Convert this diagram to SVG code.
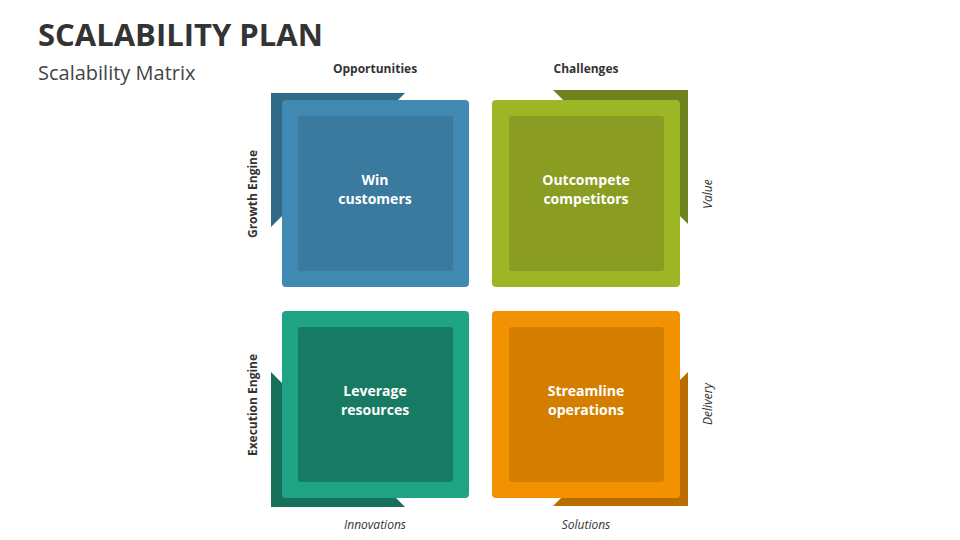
<svg xmlns="http://www.w3.org/2000/svg" width="960" height="540" viewBox="0 0 960 540">
<style>
text{font-family:"Open Sans","Liberation Sans",sans-serif}
.lab{font-size:14px;font-weight:bold;fill:#fff;text-anchor:middle}
.ax{font-size:12px;font-weight:bold;fill:#333;text-anchor:middle}
.it{font-size:12px;font-style:italic;fill:#333;text-anchor:middle}
</style>
<rect width="960" height="540" fill="#fff"/>
<text x="38" y="46" font-size="31" font-weight="bold" fill="#333">SCALABILITY PLAN</text>
<text x="38" y="80" font-size="20" fill="#444">Scalability Matrix</text>
<text class="ax" x="375" y="73">Opportunities</text>
<text class="ax" x="586" y="73">Challenges</text>
<text class="ax" transform="translate(257,194) rotate(-90)">Growth Engine</text>
<text class="ax" transform="translate(257,405) rotate(-90)">Execution Engine</text>
<text class="it" transform="translate(712,194) rotate(-90)">Value</text>
<text class="it" transform="translate(712,404) rotate(-90)">Delivery</text>
<text class="it" x="375" y="529">Innovations</text>
<text class="it" x="586" y="529">Solutions</text>
<g id="n1">
<polygon points="271,93 405,93 271,227" fill="#306a86"/>
<rect x="282" y="100" width="187" height="187" rx="4" fill="#3f89b3"/>
<rect x="298" y="116" width="155" height="155" rx="3" fill="#3a7a9f"/>
<text class="lab" x="375" y="185">Win</text><text class="lab" x="375" y="204">customers</text>
</g>
<g id="n2">
<polygon points="553,90 688,90 688,224" fill="#6f8220"/>
<rect x="492" y="100" width="188" height="187" rx="4" fill="#9db626"/>
<rect x="509" y="116" width="155" height="155" rx="3" fill="#8a9c22"/>
<text class="lab" x="586" y="185">Outcompete</text><text class="lab" x="586" y="204">competitors</text>
</g>
<g id="n3">
<polygon points="271,372 271,507 405,507" fill="#16705a"/>
<rect x="282" y="311" width="187" height="187" rx="4" fill="#1ea484"/>
<rect x="298" y="327" width="155" height="155" rx="3" fill="#177a62"/>
<text class="lab" x="375" y="396">Leverage</text><text class="lab" x="375" y="415">resources</text>
</g>
<g id="n4">
<polygon points="688,372 688,506 553,506" fill="#b96d00"/>
<rect x="492" y="311" width="188" height="187" rx="4" fill="#f39200"/>
<rect x="509" y="327" width="155" height="155" rx="3" fill="#d47e00"/>
<text class="lab" x="586" y="396">Streamline</text><text class="lab" x="586" y="415">operations</text>
</g>
<g id="connectors"></g>
</svg>
